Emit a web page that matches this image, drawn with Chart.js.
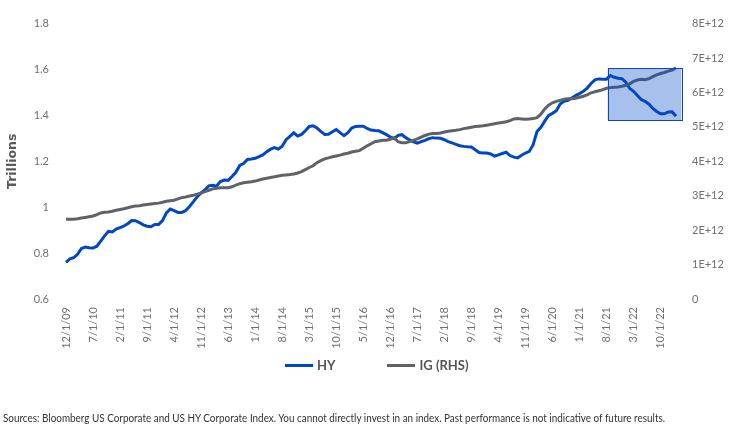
<!DOCTYPE html>
<html>
<head>
<meta charset="utf-8">
<script src="https://cdn.jsdelivr.net/npm/chart.js@4.4.1/dist/chart.umd.min.js"></script>
<style>
    html, body { margin: 0; padding: 0; background: #fff; }
    .wrap { position: relative; width: 736px; height: 433px; overflow: hidden; }
    #chart { position: absolute; left: 0; top: 0; }
    .legend { position: absolute; left: 285px; top: 357px; display: flex; align-items: center;
        font-family: Lato, 'Open Sans', sans-serif; font-weight: bold; font-size: 13px; color: #555; }
    .legend .item { display: flex; align-items: center; margin-right: 52px; }
    .legend .swatch { width: 28px; height: 3px; margin-right: 4px; }
    .note { position: absolute; left: 3px; top: 411px; font-family: Lato, 'Open Sans', sans-serif;
        font-size: 11px; color: #333; white-space: nowrap; transform: scaleX(0.9); transform-origin: left center; }
</style>
</head>
<body>
<div class="wrap">
    <canvas id="chart" width="736" height="433"></canvas>
    <div class="legend" id="legend"></div>
    <div class="note">Sources: Bloomberg US Corporate and US HY Corporate Index. You cannot directly invest in an index. Past performance is not indicative of future results.</div>
</div>
<script>
// Meses: 12/1/09 a 2/1/23, uno por punto
const firstMonth = { month: 12, year: 2009 };
const monthCount = 159;
const months = [];
for (let i = 0; i < monthCount; i++) {
    const m = (firstMonth.month - 1 + i) % 12 + 1;
    const y = firstMonth.year + Math.floor((firstMonth.month - 1 + i) / 12);
    months.push(m + '/1/' + String(y % 100).padStart(2, '0'));
}
const tickEvery = 7;

// HY, en billones (eje izquierdo)
const hy = [0.76, 0.775, 0.78, 0.795, 0.82, 0.826, 0.823, 0.822, 0.83, 0.852,
    0.875, 0.895, 0.892, 0.905, 0.911, 0.918, 0.928, 0.942, 0.941, 0.933,
    0.923, 0.917, 0.915, 0.925, 0.925, 0.942, 0.975, 0.992, 0.985, 0.977,
    0.977, 0.985, 1.003, 1.024, 1.046, 1.062, 1.076, 1.093, 1.096, 1.092,
    1.112, 1.118, 1.117, 1.134, 1.152, 1.182, 1.19, 1.208, 1.21, 1.213,
    1.22, 1.228, 1.242, 1.253, 1.26, 1.253, 1.266, 1.294, 1.309, 1.324,
    1.31, 1.317, 1.333, 1.352, 1.355, 1.345, 1.33, 1.317, 1.318, 1.329,
    1.338, 1.325, 1.312, 1.325, 1.345, 1.352, 1.353, 1.353, 1.343, 1.336,
    1.334, 1.333, 1.325, 1.316, 1.306, 1.298, 1.313, 1.316, 1.303, 1.293,
    1.285, 1.279, 1.286, 1.291, 1.299, 1.303, 1.301, 1.3, 1.294, 1.286,
    1.28, 1.274, 1.268, 1.265, 1.263, 1.262, 1.25, 1.238, 1.236, 1.236,
    1.232, 1.223, 1.228, 1.234, 1.24, 1.225, 1.218, 1.215, 1.226, 1.236,
    1.243, 1.272, 1.33, 1.348, 1.375, 1.4, 1.409, 1.42, 1.45, 1.462,
    1.466, 1.476, 1.486, 1.495, 1.505, 1.519, 1.539, 1.555, 1.559, 1.558,
    1.558, 1.574, 1.566, 1.562, 1.56, 1.545, 1.518, 1.505, 1.487, 1.469,
    1.461, 1.449, 1.43, 1.417, 1.407, 1.407, 1.415, 1.416, 1.396];

// IG, en billones (eje derecho en unidades)
const igTrillions = [2.32, 2.32, 2.32, 2.33, 2.35, 2.37, 2.39, 2.41, 2.45, 2.50,
    2.52, 2.53, 2.55, 2.58, 2.60, 2.62, 2.65, 2.68, 2.70, 2.71,
    2.73, 2.745, 2.76, 2.775, 2.785, 2.81, 2.84, 2.855, 2.87, 2.91,
    2.945, 2.965, 2.99, 3.015, 3.045, 3.08, 3.12, 3.16, 3.20, 3.22,
    3.234, 3.234, 3.234, 3.26, 3.31, 3.35, 3.376, 3.39, 3.405, 3.425,
    3.455, 3.485, 3.51, 3.53, 3.55, 3.575, 3.595, 3.605, 3.615, 3.63,
    3.66, 3.70, 3.76, 3.82, 3.87, 3.96, 4.02, 4.07, 4.10, 4.13,
    4.155, 4.18, 4.21, 4.235, 4.27, 4.29, 4.31, 4.38, 4.45, 4.51,
    4.57, 4.59, 4.61, 4.61, 4.64, 4.69, 4.57, 4.54, 4.54, 4.57,
    4.61, 4.65, 4.70, 4.75, 4.79, 4.81, 4.81, 4.82, 4.85, 4.87,
    4.89, 4.90, 4.92, 4.95, 4.97, 4.99, 5.01, 5.02, 5.03, 5.05,
    5.07, 5.09, 5.11, 5.13, 5.15, 5.18, 5.23, 5.24, 5.23, 5.22,
    5.23, 5.24, 5.27, 5.37, 5.52, 5.63, 5.70, 5.74, 5.77, 5.80,
    5.82, 5.82, 5.83, 5.86, 5.89, 5.93, 5.99, 6.02, 6.05, 6.08,
    6.12, 6.14, 6.15, 6.16, 6.18, 6.21, 6.25, 6.32, 6.36, 6.38,
    6.37, 6.40, 6.46, 6.51, 6.55, 6.58, 6.62, 6.65, 6.72];

// Recuadro resaltado (índice de mes y valores del eje derecho)
const highlightX = [140.3, 159.4];
const highlightY = [5.19e12, 6.70e12];

const tickFont = { family: 'Lato, "Open Sans", sans-serif', size: 11 };
const tickColor = '#707070';

// Recuadro azul semitransparente sobre las líneas
const highlightBox = {
    id: 'highlightBox',
    afterDatasetsDraw(chart) {
        const { ctx, scales } = chart;
        const x1 = scales.x.getPixelForValue(highlightX[0]);
        const x2 = scales.x.getPixelForValue(highlightX[1]);
        const y1 = scales.y1.getPixelForValue(highlightY[1]);
        const y2 = scales.y1.getPixelForValue(highlightY[0]);
        ctx.save();
        ctx.fillStyle = 'rgba(0, 70, 200, 0.34)';
        ctx.fillRect(x1, y1, x2 - x1, y2 - y1);
        ctx.strokeStyle = '#0a47c0';
        ctx.lineWidth = 1;
        ctx.strokeRect(Math.round(x1) + 0.5, Math.round(y1) + 0.5, Math.round(x2 - x1), Math.round(y2 - y1));
        ctx.restore();
    }
};

const chart = new Chart(document.getElementById('chart').getContext('2d'), {
    type: 'line',
    data: {
        labels: months,
        datasets: [{
            label: 'HY',
            data: hy,
            yAxisID: 'y',
            borderColor: '#0047c6',
            borderWidth: 3,
            pointRadius: 0,
            tension: 0,
            order: 1
        }, {
            label: 'IG (RHS)',
            data: igTrillions.map(v => v * 1e12),
            yAxisID: 'y1',
            borderColor: '#5f6368',
            borderWidth: 3,
            pointRadius: 0,
            tension: 0,
            order: 0
        }]
    },
    options: {
        responsive: false,
        animation: false,
        layout: { padding: { top: 17, bottom: 82, left: 0, right: 0 } },
        plugins: { legend: { display: false }, tooltip: { enabled: false } },
        scales: {
            x: {
                offset: false,
                grid: { display: false, drawTicks: false },
                border: { display: false },
                ticks: {
                    autoSkip: false, maxRotation: 90, minRotation: 90, padding: 8,
                    font: tickFont, color: tickColor,
                    callback: (v, i) => i % tickEvery === 0 ? months[i] : null
                },
                afterFit: s => { s.height = 52; }
            },
            y: {
                position: 'left',
                min: 0.6, max: 1.8,
                grid: { display: false, drawTicks: false },
                border: { display: false },
                ticks: { stepSize: 0.2, padding: 17, font: tickFont, color: tickColor,
                    callback: v => String(+v.toFixed(1)) },
                title: { display: true, text: 'Trillions', color: '#595959', padding: { top: 5, bottom: 0 },
                    font: { family: '"DejaVu Sans", sans-serif', size: 12.5, weight: 'bold' } },
                afterFit: s => { s.width = 66; }
            },
            y1: {
                position: 'right',
                min: 0, max: 8e12,
                grid: { display: false, drawTicks: false },
                border: { display: false },
                ticks: { stepSize: 1e12, padding: 16, font: tickFont, color: tickColor,
                    callback: v => v === 0 ? '0' : Math.round(v / 1e12) + 'E+12' },
                afterFit: s => { s.width = 60; }
            }
        }
    },
    plugins: [highlightBox]
});

// Leyenda en HTML a partir de los datasets
const legend = document.getElementById('legend');
chart.data.datasets.forEach(ds => {
    const item = document.createElement('div');
    item.className = 'item';
    item.innerHTML = `<span class="swatch" style="background:${ds.borderColor}"></span>${ds.label}`;
    legend.appendChild(item);
});
</script>
</body>
</html>
